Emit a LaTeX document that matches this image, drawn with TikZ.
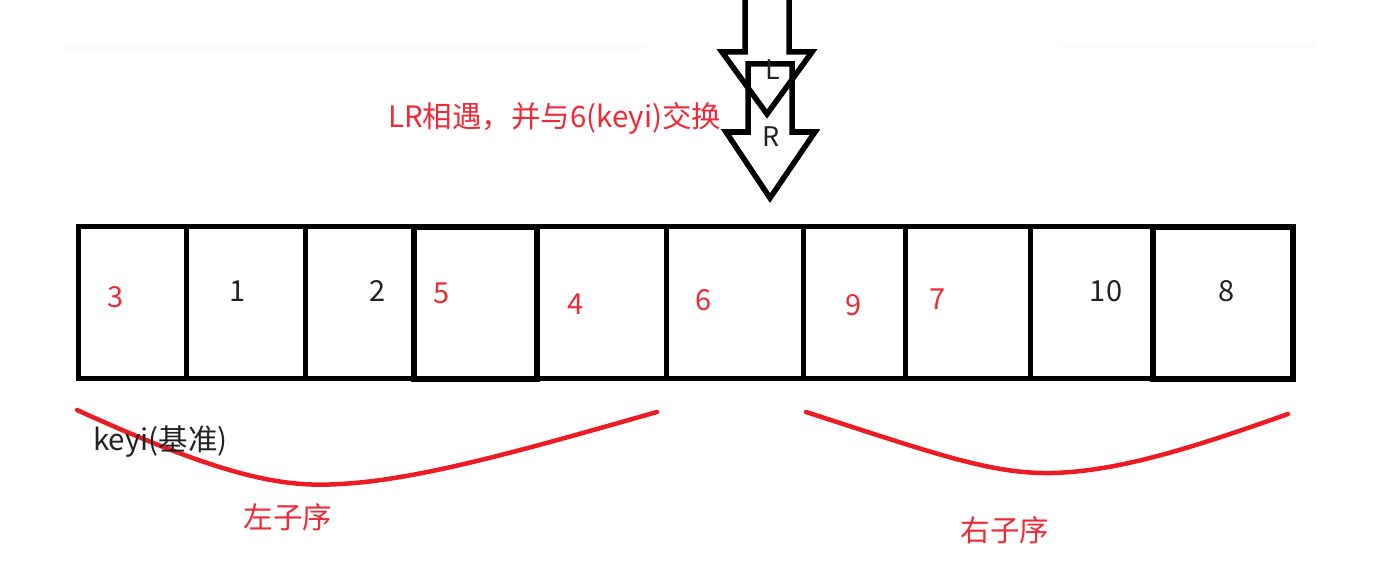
\documentclass[tikz,border=0pt]{standalone}
\usepackage{fontspec}
\setmainfont{Noto Sans CJK SC}
\definecolor{lrred}{HTML}{EE2A36}
\definecolor{curvered}{HTML}{ED1C24}
\definecolor{inkgray}{HTML}{222222}

\begin{document}
\begin{tikzpicture}[x=1pt, y=-1pt,
  cell/.style={draw, anchor=north west, minimum height=152pt, inner sep=0pt},
  num/.style={font=\fontsize{29}{32}\selectfont, inner sep=0pt},
  note/.style={font=\fontsize{29.5}{32}\selectfont, inner sep=0pt},
  bigarrow/.style={draw, line width=5.5pt, miter limit=8},
  brace/.style={draw=curvered, line width=4.5pt, line cap=round}]
\useasboundingbox (0,0) rectangle (1399,575);
% faint marks at the top
\fill[black!1.5] (65,44) rectangle (645,50);
\fill[black!1.5] (1060,44) rectangle (1315,48);
% the row of cells
\foreach \l/\r/\w [count=\i] in {76/184/4.5, 184/303/4.5, 303/411/4.5, 411/534/6,
    534/664/4.5, 664/801/4.5, 801/903/4.5, 903/1028/4.5, 1028/1150/4.5, 1150/1290/6}
  \node[cell, line width=\w pt, minimum width=\r-\l] (c\i) at (\l,224) {};
% values
\foreach \v/\x/\y/\c in {3/116/297/lrred, 1/238/291/inkgray, 2/378/291/inkgray,
    5/442/293/lrred, 4/576/304/lrred, 6/704/300/lrred, 9/854/305/lrred,
    7/938/299/lrred, 10/1106/291/inkgray, 8/1227/291/inkgray}
  \node[num, text=\c] (v\v) at (\x,\y) {\v};
% L and R pointers
\draw[bigarrow] (745,-10) -- (745,52) -- (722,52) -- (767,114) -- (812,52) -- (789,52) -- (789,-10);
\draw[bigarrow] (748,64) -- (748,132) -- (726,132) -- (770,198) -- (815,132) -- (792,132) -- (792,64) -- cycle;
\node[note, text=inkgray, font=\fontsize{27}{30}\selectfont] (lptr) at (773,70) {L};
\node[note, text=inkgray, font=\fontsize{27}{30}\selectfont] (rptr) at (771,137) {R};
\node[note, text=lrred, anchor=west] (meet) at (388,118) {LR相遇，并与6(keyi)交换};
% sub-sequences
\draw[brace] (77,410) .. controls (220,475) and (280,488) .. (340,484)
  .. controls (420,480) and (530,448) .. (657,412);
\draw[brace] (806,412) .. controls (930,452) and (990,474) .. (1050,473)
  .. controls (1120,472) and (1200,445) .. (1288,414);
\node[note, text=inkgray, anchor=west] (pivot) at (93,442) {keyi(基准)};
\node[note, text=lrred] (lsub) at (288,517) {左子序};
\node[note, text=lrred] (rsub) at (1005,530) {右子序};
\end{tikzpicture}
\end{document}
